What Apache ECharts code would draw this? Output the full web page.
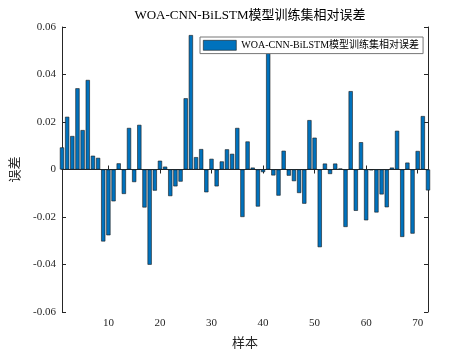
<!DOCTYPE html>
<html><head><meta charset="utf-8">
<script src="https://cdn.jsdelivr.net/npm/echarts@6/dist/echarts.min.js"></script>
<style>html,body{margin:0;padding:0;background:#fff}#c{width:474px;height:355px}</style>
</head><body><div id="c"></div>
<script>
const chartTitle = 'WOA-CNN-BiLSTM模型训练集相对误差';
const seriesName = 'WOA-CNN-BiLSTM模型训练集相对误差';
const xName = '样本';
const yName = '误差';
const samples = [1,2,3,4,5,6,7,8,9,10,11,12,13,14,15,16,17,18,19,20,21,22,23,24,25,26,27,28,29,30,31,32,33,34,35,36,37,38,39,40,41,42,43,44,45,46,47,48,49,50,51,52,53,54,55,56,57,58,59,60,61,62,63,64,65,66,67,68,69,70,71,72];
const errors = [0.0093,0.0222,0.0141,0.0342,0.0166,0.0377,0.0058,0.0049,-0.0303,-0.0277,
  -0.0134,0.0026,-0.0103,0.0175,-0.0053,0.0188,-0.0160,-0.0401,-0.0089,0.0037,
  0.0012,-0.0112,-0.0071,-0.0051,0.0300,0.0566,0.0052,0.0086,-0.0096,0.0045,
  -0.0071,0.0034,0.0085,0.0066,0.0175,-0.0200,0.0118,0.0008,-0.0156,-0.0011,
  0.0490,-0.0025,-0.0110,0.0079,-0.0026,-0.0049,-0.0099,-0.0144,0.0208,0.0134,
  -0.0327,0.0025,-0.0019,0.0025,0.0004,-0.0242,0.0330,-0.0174,0.0115,-0.0214,
  -0.0003,-0.0181,-0.0105,-0.0159,0.0008,0.0163,-0.0284,0.0029,-0.0270,0.0078,
  0.0225,-0.0088];
const xTicks = [10,20,30,40,50,60,70];
const yMin = -0.06, yMax = 0.06, yStep = 0.02;

const serif = "'Liberation Serif','Noto Sans CJK SC',serif";
const axisCol = '#262626';
const chart = echarts.init(document.getElementById('c'));
const baseX = {
  type: 'value', min: 1, max: 72,
  axisLine: {lineStyle: {color: axisCol, width: 1}},
  axisTick: {inside: true, length: 4, customValues: xTicks, lineStyle: {color: axisCol}},
  splitLine: {show: false}
};
const baseY = {
  type: 'value', min: yMin, max: yMax, interval: yStep,
  axisLine: {show: true, lineStyle: {color: axisCol, width: 1}},
  axisTick: {show: true, inside: true, length: 4, lineStyle: {color: axisCol}},
  splitLine: {show: false}
};
chart.setOption({
  animation: false,
  backgroundColor: '#fff',
  title: {text: chartTitle, left: 245, textAlign: 'center', top: 4,
    textStyle: {fontFamily: serif, fontSize: 13, fontWeight: 'normal', color: '#000'}},
  legend: {
    data: [{name: seriesName, icon: 'rect'}], left: 200, top: 37,
    backgroundColor: '#fff', borderColor: '#777', borderWidth: 1,
    padding: [3, 4, 3, 3], itemWidth: 33, itemHeight: 10, itemGap: 4,
    itemStyle: {borderColor: '#1a1a1a', borderWidth: 0.6},
    textStyle: {fontFamily: serif, fontSize: 10, color: '#000'}
  },
  grid: {left: 62, right: 46, top: 27, bottom: 39, containLabel: false},
  xAxis: [
    Object.assign({}, baseX, {position: 'bottom', name: xName, nameLocation: 'middle', nameGap: 25,
      nameTextStyle: {fontFamily: serif, fontSize: 13, color: axisCol},
      axisLabel: {customValues: xTicks, fontFamily: serif, fontSize: 11, color: axisCol, margin: 6}}),
    Object.assign({}, baseX, {position: 'top', axisLabel: {show: false}})
  ],
  yAxis: [
    Object.assign({}, baseY, {position: 'left', name: yName, nameLocation: 'middle', nameGap: 37,
      nameTextStyle: {fontFamily: serif, fontSize: 13, color: axisCol},
      axisLabel: {fontFamily: serif, fontSize: 11, color: axisCol, margin: 6,
        formatter: v => Math.abs(v) < 1e-9 ? '0' : v.toFixed(2)}}),
    Object.assign({}, baseY, {position: 'right', axisLabel: {show: false}})
  ],
  series: [{
    name: seriesName, type: 'bar', xAxisIndex: 0, yAxisIndex: 0,
    data: samples.map((s, i) => [s, errors[i]]),
    barWidth: 4.2, clip: true,
    itemStyle: {color: '#0072BD', borderColor: '#1a1a1a', borderWidth: 0.6}
  }]
});
</script></body></html>
